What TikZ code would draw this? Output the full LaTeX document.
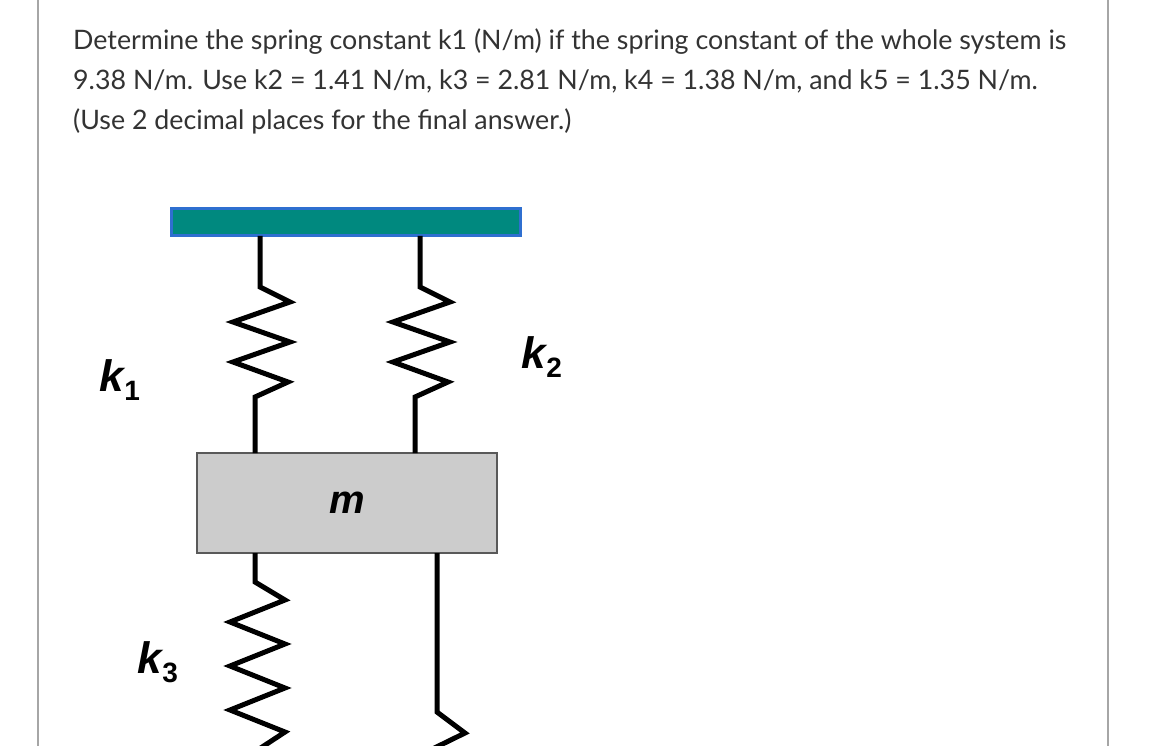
\documentclass[tikz,border=0pt]{standalone}
\usepackage{fontspec}
\setmainfont{Lato}
\newfontfamily\labfont{Liberation Sans}
\definecolor{barfill}{HTML}{00897F}
\definecolor{barline}{HTML}{2F6FD0}
\begin{document}
\begin{tikzpicture}[x=1pt,y=-1pt,
  spring/.style={line width=5pt,line join=miter,black},
  klab/.style={font=\labfont\bfseries\itshape\fontsize{44}{44}\selectfont,inner sep=0pt},
  qtext/.style={anchor=base west,inner sep=0pt,text=black!80,font=\fontsize{26.8}{30}\selectfont}]
\useasboundingbox (0,0) rectangle (1152,746);
\clip (0,0) rectangle (1152,746);
\fill[white] (0,0) rectangle (1152,746);
\draw[black!35,line width=1.2pt] (38,0) -- (38,746) (1108,0) -- (1108,746);
\node[qtext] (l1) at (73,50) {Determine the spring constant k1 (N/m) if the spring constant of the whole system is};
\node[qtext] (l2) at (73,90) {9.38 N/m. Use k2 = 1.41 N/m, k3 = 2.81 N/m, k4 = 1.38 N/m, and k5 = 1.35 N/m.};
\node[qtext] (l3) at (73,130) {(Use 2 decimal places for the final answer.)};
% ceiling
\node[draw=barline,fill=barfill,line width=3pt,minimum width=349pt,minimum height=27pt,inner sep=0pt] (bar) at (346,222) {};
% mass
\node[draw=black!65,fill=black!20,line width=2pt,minimum width=300pt,minimum height=100pt,inner sep=0pt] (mass) at (347,503) {};
\node[font=\labfont\bfseries\itshape\fontsize{40}{40}\selectfont] (m) at (mass.center) {m};
\coordinate (a1) at (260,236);
\coordinate (a2) at (420,236);
\coordinate (b1) at (255,453);
\coordinate (b2) at (415,453);
\coordinate (c1) at (255,553);
\coordinate (c2) at (437,553);
% upper springs
\draw[spring] (a1) -- (260,287) -- (290,302) -- (233,322) -- (290,342) -- (233,362) -- (288,382) -- (255,397) -- (b1);
\draw[spring] (a2) -- (420,287) -- (450,302) -- (393,322) -- (450,342) -- (393,362) -- (448,382) -- (415,397) -- (b2);
% lower springs
\draw[spring] (c1) -- (255,582) -- (285,600) -- (230,622) -- (285,644) -- (230,666) -- (285,688) -- (230,710) -- (285,732) -- (250,755);
\draw[spring] (c2) -- (437,712) -- (465,733) -- (410,760);
% labels
\node[klab] (k1) at (120,380) {k\raisebox{-0.4ex}{\upshape\fontsize{28}{28}\selectfont 1}};
\node[klab] (k2) at (542,357) {k\raisebox{-0.4ex}{\upshape\fontsize{28}{28}\selectfont 2}};
\node[klab] (k3) at (158,662) {k\raisebox{-0.4ex}{\upshape\fontsize{28}{28}\selectfont 3}};
\end{tikzpicture}
\end{document}
